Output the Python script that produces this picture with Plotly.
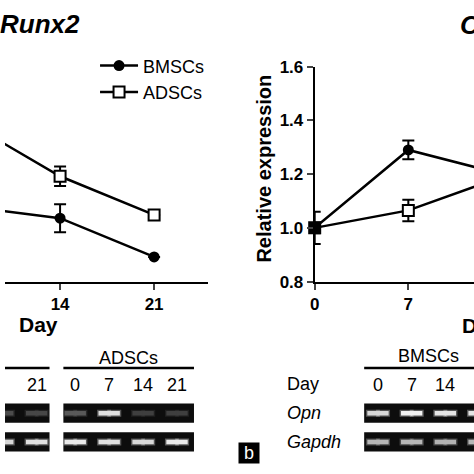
import plotly.graph_objects as go

# ---- data ----
days = [0, 7, 14, 21]
# Runx2 (left panel, y axis off-canvas)
runx2_bmsc = [1.0, 0.70, 0.59, 0.23]
runx2_bmsc_err = [0.05, 0.05, 0.13, 0.0]
runx2_adsc = [1.0, 1.49, 0.98, 0.62]
runx2_adsc_err = [0.05, 0.08, 0.09, 0.0]

# Opn (right panel)
opn_days = [0, 7, 14]
opn_bmsc = [1.0, 1.29, 1.20]
opn_bmsc_err = [0.06, 0.035, 0.03]
opn_adsc = [1.0, 1.065, 1.19]
opn_adsc_err = [0.02, 0.04, 0.03]

opn_ticks = [0.8, 1.0, 1.2, 1.4, 1.6]
day_ticks = [0, 7, 14, 21]

# gel band brightness (0 = black, 1 = white), one per lane
lanes = [0, 1, 2, 3]
lane_labels = ["0", "7", "14", "21"]
gel_runx2_bmsc = [0.35, 0.40, 0.30, 0.28]
gel_gapdh_bmsc_l = [0.85, 0.85, 0.85, 0.88]
gel_runx2_adsc = [0.35, 0.88, 0.25, 0.25]
gel_gapdh_adsc = [0.92, 0.88, 0.85, 0.92]
gel_opn_bmsc = [0.85, 0.95, 0.90, 0.90]
gel_gapdh_bmsc_r = [0.72, 0.72, 0.70, 0.72]

W = H = 474
FONT = "Liberation Sans, Arial, sans-serif"


def fx(px):
    return px / W


def fy(px):
    return 1 - px / H


fig = go.Figure()

# line plots
fig.add_trace(go.Scatter(
    x=days, y=runx2_bmsc, name="BMSCs", mode="lines+markers",
    line=dict(color="black", width=2.5),
    marker=dict(symbol="circle", size=11, color="black"),
    error_y=dict(type="data", array=runx2_bmsc_err, color="black", thickness=2, width=6),
    xaxis="x", yaxis="y", cliponaxis=False,
))
fig.add_trace(go.Scatter(
    x=days, y=runx2_adsc, name="ADSCs", mode="lines+markers",
    line=dict(color="black", width=2.5),
    marker=dict(symbol="square", size=11, color="white", line=dict(color="black", width=2)),
    error_y=dict(type="data", array=runx2_adsc_err, color="black", thickness=2, width=6),
    xaxis="x", yaxis="y", cliponaxis=False,
))
fig.add_trace(go.Scatter(
    x=opn_days, y=opn_adsc, name="ADSCs", mode="lines+markers", showlegend=False,
    line=dict(color="black", width=2.5),
    marker=dict(symbol="square", size=11, color=["black", "white", "white"],
                line=dict(color="black", width=2)),
    error_y=dict(type="data", array=opn_adsc_err, color="black", thickness=2, width=6),
    xaxis="x2", yaxis="y2", cliponaxis=False,
))
fig.add_trace(go.Scatter(
    x=opn_days, y=opn_bmsc, name="BMSCs", mode="lines+markers", showlegend=False,
    line=dict(color="black", width=2.5),
    marker=dict(symbol="circle", size=11, color="black"),
    error_y=dict(type="data", array=opn_bmsc_err, color="black", thickness=2, width=6),
    xaxis="x2", yaxis="y2", cliponaxis=False,
))


# gel bands: two short dashes per lane, with a faint glow underneath
def add_gel(xa, ya, vals):
    xs, cols, glow = [], [], []
    for ln, v in zip(lanes, vals):
        g = int(255 * v)
        for off in (-0.15, 0.15):
            xs.append(ln + off)
            cols.append(f"rgb({g},{g},{g})")
            glow.append(f"rgba({g},{g},{g},0.35)")
    fig.add_trace(go.Scatter(
        x=xs, y=[0] * len(xs), mode="markers", showlegend=False, hoverinfo="skip",
        marker=dict(symbol="line-ew", size=10, line=dict(color=glow, width=7)),
        xaxis=xa, yaxis=ya,
    ))
    fig.add_trace(go.Scatter(
        x=xs, y=[0] * len(xs), mode="markers", showlegend=False, hoverinfo="skip",
        marker=dict(symbol="line-ew", size=8, line=dict(color=cols, width=4.5)),
        xaxis=xa, yaxis=ya,
    ))


add_gel("x3", "y3", gel_runx2_bmsc)
add_gel("x3", "y4", gel_gapdh_bmsc_l)
add_gel("x4", "y3", gel_runx2_adsc)
add_gel("x4", "y4", gel_gapdh_adsc)
add_gel("x5", "y3", gel_opn_bmsc)
add_gel("x5", "y4", gel_gapdh_bmsc_r)

plot_dom = [fy(284), fy(60)]
xtickfont = dict(family=FONT, size=17, color="black", weight="bold")
ytickfont = dict(family=FONT, size=17, color="black", weight="bold")
hidden = dict(visible=False, fixedrange=True)

fig.update_layout(
    width=W, height=H,
    margin=dict(l=0, r=0, t=0, b=0),
    paper_bgcolor="white", plot_bgcolor="white",
    font=dict(family=FONT, color="black"),
    xaxis=dict(domain=[0, fx(205)], range=[9.9, 25.0], anchor="y",
               tickvals=day_ticks, ticks="outside", ticklen=6, tickwidth=2,
               showline=True, linewidth=2, linecolor="black", showgrid=False,
               zeroline=False, tickfont=xtickfont),
    yaxis=dict(domain=plot_dom, range=[0, 2.0], anchor="x", visible=False),
    xaxis2=dict(domain=[fx(313), 1], range=[0, 11.91], anchor="y2",
                tickvals=day_ticks, ticks="outside", ticklen=6, tickwidth=2,
                showline=True, linewidth=2, linecolor="black", showgrid=False,
                zeroline=False, tickfont=xtickfont),
    yaxis2=dict(domain=plot_dom, range=[0.8, 1.6], anchor="x2",
                tickvals=opn_ticks, tickformat=".1f", ticks="outside", ticklen=6,
                tickwidth=2, showline=True, linewidth=2, linecolor="black",
                showgrid=False, zeroline=False, tickfont=ytickfont),
    xaxis3=dict(domain=[0, fx(45)], range=[2.067, 3.379], anchor="y3", **hidden),
    xaxis4=dict(domain=[fx(59), fx(191)], range=[-0.35, 3.5], anchor="y3", **hidden),
    xaxis5=dict(domain=[fx(363), 1], range=[-0.41, 2.85], anchor="y3", **hidden),
    yaxis3=dict(domain=[fy(431), fy(411)], range=[-1, 1], anchor="x3", **hidden),
    yaxis4=dict(domain=[fy(461), fy(441)], range=[-1, 1], anchor="x3", **hidden),
    legend=dict(x=fx(91), y=fy(40), xanchor="left", yanchor="top", itemwidth=38,
                bgcolor="rgba(0,0,0,0)", font=dict(family=FONT, size=18, color="black")),
    showlegend=True,
)

# gel backgrounds and header rules
shapes = []
for xa in ("x3", "x4", "x5"):
    for ya in ("y3", "y4"):
        shapes.append(dict(type="rect", xref=f"{xa} domain", yref=f"{ya} domain",
                           x0=0, x1=1, y0=0, y1=1, fillcolor="#0d0d0d",
                           line=dict(width=0), layer="below"))
    shapes.append(dict(type="line", xref=f"{xa} domain", yref="paper",
                       x0=0, x1=1, y0=fy(374), y1=fy(374),
                       line=dict(color="black", width=2.5)))
fig.update_layout(shapes=shapes)

ann = []
txt = dict(family=FONT, size=18, color="black")
# titles
ann.append(dict(text="<b><i>Runx2</i></b>", x=fx(-7), y=fy(16), xref="paper", yref="paper",
                xanchor="left", yanchor="middle", showarrow=False,
                font=dict(family=FONT, size=26, color="black")))
ann.append(dict(text="<b><i>Opn</i></b>", x=fx(458), y=fy(17), xref="paper", yref="paper",
                xanchor="left", yanchor="middle", showarrow=False,
                font=dict(family=FONT, size=26, color="black")))
# axis titles
ann.append(dict(text="<b>Day</b>", x=fx(34), y=fy(329), xref="paper", yref="paper",
                xanchor="center", yanchor="middle", showarrow=False,
                font=dict(family=FONT, size=21, color="black")))
ann.append(dict(text="<b>Day</b>", x=fx(482), y=fy(330), xref="paper", yref="paper",
                xanchor="center", yanchor="middle", showarrow=False,
                font=dict(family=FONT, size=21, color="black")))
ann.append(dict(text="<b>Relative expression</b>", x=fx(262), y=fy(166), xref="paper",
                yref="paper", xanchor="center", yanchor="middle", textangle=-90,
                showarrow=False, font=dict(family=FONT, size=20, color="black")))
# gel headers
ann.append(dict(text="BMSCs", x=1.5, y=fy(364), xref="x3", yref="paper",
                xanchor="center", yanchor="middle", showarrow=False, font=txt))
ann.append(dict(text="ADSCs", x=0.5, y=fy(364), xref="x4 domain", yref="paper",
                xanchor="center", yanchor="middle", showarrow=False, font=txt))
ann.append(dict(text="BMSCs", x=1.5, y=fy(362), xref="x5", yref="paper",
                xanchor="center", yanchor="middle", showarrow=False, font=txt))
for xa in ("x3", "x4", "x5"):
    for ln, lab in zip(lanes, lane_labels):
        ann.append(dict(text=lab, x=ln, y=fy(392), xref=xa, yref="paper",
                        xanchor="center", yanchor="middle", showarrow=False, font=txt))
# row labels (right gel)
ann.append(dict(text="Day", x=fx(283), y=fy(391), xref="paper", yref="paper",
                xanchor="left", yanchor="middle", showarrow=False, font=txt))
ann.append(dict(text="<i>Opn</i>", x=fx(283), y=fy(421), xref="paper", yref="paper",
                xanchor="left", yanchor="middle", showarrow=False, font=txt))
ann.append(dict(text="<i>Gapdh</i>", x=fx(283), y=fy(451), xref="paper", yref="paper",
                xanchor="left", yanchor="middle", showarrow=False, font=txt))
# panel letter
ann.append(dict(text="b", x=fx(235), y=0, xref="paper", yref="paper",
                xanchor="left", yanchor="bottom", showarrow=False, width=20, height=20,
                bgcolor="black", borderpad=0,
                font=dict(family=FONT, size=18, color="white")))
fig.update_layout(annotations=ann)

# drop the page's default body margin so the figure sits at the window corner
fig.write_html("out.html", config={"displayModeBar": False},
               post_script="document.body.style.margin='0';")
